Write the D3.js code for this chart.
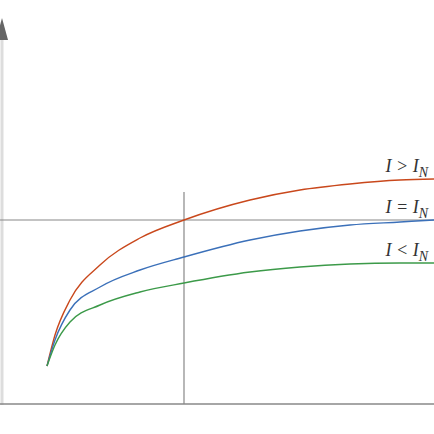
<!DOCTYPE html>
<html><head><meta charset="utf-8">
<script src="https://cdn.jsdelivr.net/npm/d3@7"></script>
<style>body{margin:0;background:#fff}svg{display:block}</style>
</head><body><div id="chart"></div>
<script>
// x in chart units, y = height above the base line
const xs = [0, 8, 23, 53, 93, 137, 203, 253, 303, 353, 387]
const above = [38, 69, 104, 139, 166, 184, 204, 214, 220, 224, 225]
const equal = [38, 64, 94, 117, 134, 147, 164, 173, 179, 182, 184]
const below = [38, 59, 82, 99, 112, 121, 132, 137, 140, 141, 141]
const series = [
  {name: "above", values: above, color: "#c9481c", label: "I > I", ly: 172},
  {name: "equal", values: equal, color: "#3b70b9", label: "I = I", ly: 213},
  {name: "below", values: below, color: "#3c9a49", label: "I < I", ly: 256}
]
const refX = 137, refY = 184

const W = 434, H = 434
const svg = d3.select("#chart").append("svg").attr("width", W).attr("height", H)

const x = d3.scaleLinear().domain([0, 387]).range([47, 434])
const y = d3.scaleLinear().domain([0, 404]).range([404, 0])

// axes
svg.append("line").attr("x1", 2).attr("x2", 2).attr("y1", 40).attr("y2", 405)
  .attr("stroke", "#ddd").attr("stroke-width", 3)
svg.append("path").attr("d", "M-4,40 L8,40 L2,18 Z").attr("fill", "#666")
svg.append("line").attr("x1", 0).attr("x2", W).attr("y1", y(0)).attr("y2", y(0))
  .attr("stroke", "#888").attr("stroke-width", 1.5)

// reference lines
svg.append("line").attr("x1", 0).attr("x2", W).attr("y1", y(refY)).attr("y2", y(refY))
  .attr("stroke", "#888").attr("stroke-width", 1.2)
svg.append("line").attr("x1", x(refX)).attr("x2", x(refX)).attr("y1", 192).attr("y2", y(0))
  .attr("stroke", "#888").attr("stroke-width", 1.2)

const line = d3.line().x((d, i) => x(xs[i])).y(d => y(d)).curve(d3.curveMonotoneX)

series.forEach(s => {
  svg.append("path").attr("d", line(s.values)).attr("fill", "none")
    .attr("stroke", s.color).attr("stroke-width", 1.4)
  const t = svg.append("text").attr("x", 428).attr("y", s.ly).attr("text-anchor", "end")
    .attr("font-family", "Liberation Serif, serif").attr("font-style", "italic")
    .attr("font-size", 18).attr("fill", "#333")
  t.append("tspan").text(s.label)
  t.append("tspan").attr("dy", 5).attr("font-size", 14).text("N")
})
</script></body></html>
